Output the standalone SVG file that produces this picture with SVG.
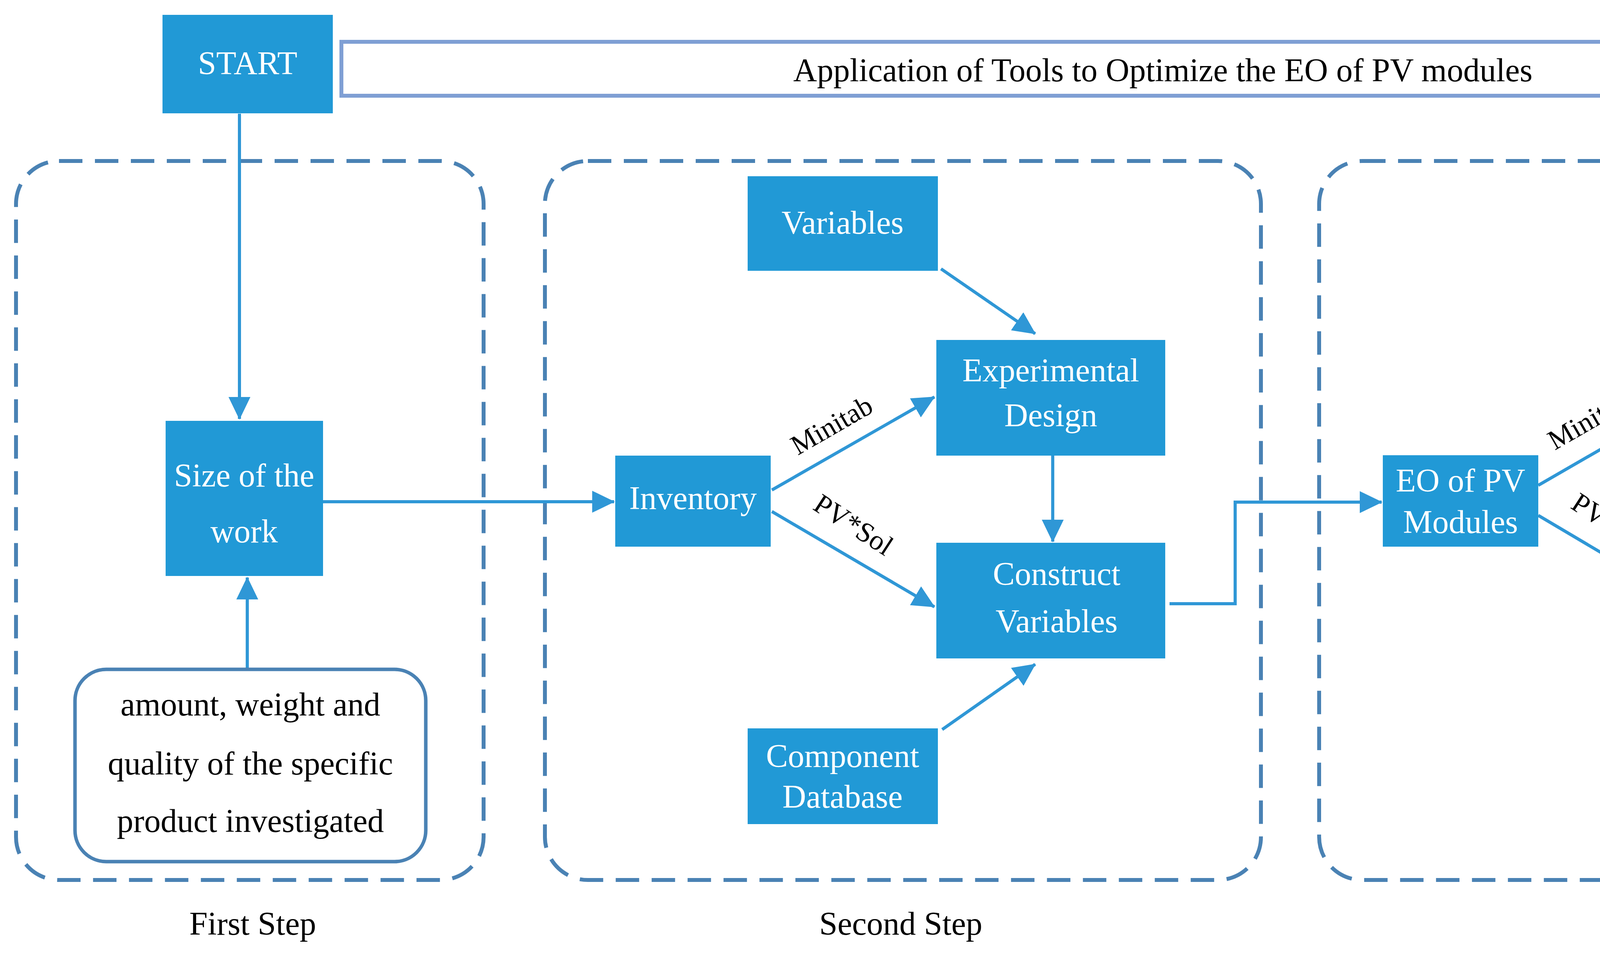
<svg xmlns="http://www.w3.org/2000/svg" width="5908" height="2444" viewBox="0 0 5908 2444">
<style>
.n{fill:#2199d6}
.t{font-family:"Liberation Serif",serif;font-size:84px;fill:#fff;text-anchor:middle}
.b{font-family:"Liberation Serif",serif;font-size:84px;fill:#000;text-anchor:middle}
.l{font-family:"Liberation Serif",serif;font-size:72px;fill:#000;text-anchor:middle}
.c{fill:none;stroke:#2f97d6;stroke-width:8}
.d{fill:none;stroke:#4a82b4;stroke-width:10;stroke-dasharray:60 32}
</style>
<defs>
<marker id="a" markerUnits="userSpaceOnUse" markerWidth="60" markerHeight="56" refX="56" refY="28" orient="auto">
<path d="M0,0 L58,28 L0,56 Z" fill="#2f97d6"/>
</marker>
</defs>
<rect width="5908" height="2444" fill="#fff"/>
<g id="steps">
<rect class="d" x="41" y="412" width="1197" height="1840" rx="110"/>
<rect class="d" x="1395" y="412" width="1833" height="1840" rx="110"/>
<rect class="d" x="3377" y="412" width="2490" height="1840" rx="110"/>
<text class="b" x="647" y="2392" font-size="80">First Step</text>
<text class="b" x="2306" y="2392" font-size="80">Second Step</text>
<text class="b" x="4574" y="2392" font-size="80">Third Step</text>
</g>
<g id="banner">
<path d="M874,107 L5068,107 L5068,45 L5238,176 L5068,309 L5068,245 L874,245 Z" fill="#fff" stroke="#7f9fd4" stroke-width="10"/>
<text class="b" x="2977" y="208" font-size="88">Application of Tools to Optimize the EO of PV modules</text>
</g>
<g id="connectors">
<line class="c" x1="613" y1="291" x2="613" y2="1072" marker-end="url(#a)"/>
<line class="c" x1="633" y1="1713" x2="633" y2="1478" marker-end="url(#a)"/>
<line class="c" x1="827" y1="1284" x2="1572" y2="1284" marker-end="url(#a)"/>
<line class="c" x1="1976" y1="1254" x2="2392" y2="1016" marker-end="url(#a)"/>
<line class="c" x1="1976" y1="1309" x2="2392" y2="1553" marker-end="url(#a)"/>
<line class="c" x1="2409" y1="688" x2="2650" y2="854" marker-end="url(#a)"/>
<line class="c" x1="2695" y1="1166" x2="2695" y2="1386" marker-end="url(#a)"/>
<line class="c" x1="2412" y1="1867" x2="2650" y2="1700" marker-end="url(#a)"/>
<polyline class="c" points="2994,1545 3162,1545 3162,1285 3537,1285" marker-end="url(#a)"/>
<line class="c" x1="3938" y1="1242" x2="4330" y2="1016" marker-end="url(#a)"/>
<line class="c" x1="3938" y1="1319" x2="4330" y2="1551" marker-end="url(#a)"/>
<line class="c" x1="4936" y1="1026" x2="5204" y2="1026" marker-end="url(#a)"/>
<polyline class="c" points="4930,1580 5513,1580 5513,1353" marker-end="url(#a)"/>
<line class="c" x1="5513" y1="690" x2="5513" y2="293" marker-end="url(#a)"/>
<text class="l" transform="translate(2141,1109) rotate(-30)">Minitab</text>
<text class="l" transform="translate(2172,1363) rotate(33)">PV*Sol</text>
<text class="l" transform="translate(4079,1096) rotate(-30)">Minitab</text>
<text class="l" transform="translate(4112,1360) rotate(33)">PV*Sol</text>
</g>
<g id="start"><rect class="n" x="416" y="38" width="436" height="252"/><text class="t" x="634" y="190">START</text></g>
<g id="end"><rect class="n" x="5265" y="38" width="415" height="252"/><text class="t" x="5472" y="190">END</text></g>
<g id="size"><rect class="n" x="424" y="1077" width="403" height="397"/><text class="t" x="625" y="1245">Size of the</text><text class="t" x="625" y="1388">work</text></g>
<g id="amount"><rect x="192" y="1713" width="898" height="492" rx="80" fill="#fff" stroke="#4a82b4" stroke-width="9"/>
<text class="b" x="641" y="1831">amount, weight and</text><text class="b" x="641" y="1982">quality of the specific</text><text class="b" x="641" y="2129">product investigated</text></g>
<g id="inventory"><rect class="n" x="1575" y="1166" width="398" height="233"/><text class="t" x="1774" y="1303">Inventory</text></g>
<g id="variables"><rect class="n" x="1914" y="451" width="487" height="242"/><text class="t" x="2157" y="598">Variables</text></g>
<g id="experimental"><rect class="n" x="2397" y="870" width="586" height="296"/><text class="t" x="2690" y="976">Experimental</text><text class="t" x="2690" y="1091">Design</text></g>
<g id="construct"><rect class="n" x="2397" y="1389" width="586" height="296"/><text class="t" x="2705" y="1497">Construct</text><text class="t" x="2705" y="1618">Variables</text></g>
<g id="component"><rect class="n" x="1914" y="1864" width="487" height="245"/><text class="t" x="2157" y="1963">Component</text><text class="t" x="2157" y="2067">Database</text></g>
<g id="eo"><rect class="n" x="3540" y="1165" width="398" height="234"/><text class="t" x="3739" y="1258">EO of PV</text><text class="t" x="3739" y="1364">Modules</text></g>
<g id="define"><rect class="n" x="4336" y="870" width="586" height="296"/><text class="t" x="4629" y="975">Define</text><text class="t" x="4629" y="1089">Coefficients</text></g>
<g id="additional"><rect class="n" x="4336" y="1389" width="586" height="297"/><text class="t" x="4625" y="1498">Additional</text><text class="t" x="4625" y="1622">Analysis</text></g>
<g id="indicate"><rect class="n" x="5207" y="690" width="588" height="660"/><text class="t" x="5501" y="935">Indicate best</text><text class="t" x="5501" y="1050">Orientation</text><text class="t" x="5501" y="1165">&amp;</text><text class="t" x="5501" y="1278">Inclination</text></g>
</svg>
